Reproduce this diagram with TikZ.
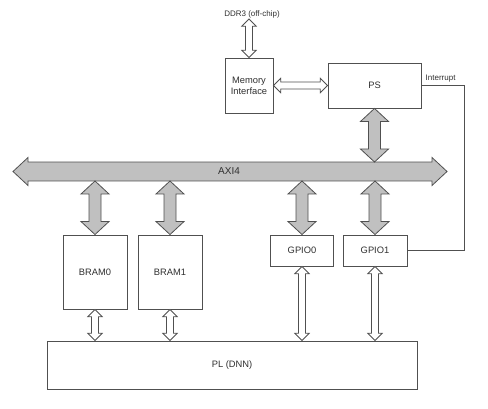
\documentclass[tikz,border=0pt]{standalone}
\usepackage{fontspec}
\setmainfont{Liberation Sans}
\usetikzlibrary{calc}
\definecolor{linec}{HTML}{505050}
\definecolor{arrfill}{HTML}{C0C0C0}
\definecolor{txtc}{HTML}{303030}
\tikzset{
  barrow/.style args={#1/#2/#3}{to path={
    (\tikztostart)
    -- ($(\tikztostart)!#3!(\tikztotarget)!#2!90:(\tikztotarget)$)
    -- ($(\tikztostart)!#3!(\tikztotarget)!#1!90:(\tikztotarget)$)
    -- ($(\tikztotarget)!#3!(\tikztostart)!#1!-90:(\tikztostart)$)
    -- ($(\tikztotarget)!#3!(\tikztostart)!#2!-90:(\tikztostart)$)
    -- (\tikztotarget)
    -- ($(\tikztotarget)!#3!(\tikztostart)!#2!90:(\tikztostart)$)
    -- ($(\tikztotarget)!#3!(\tikztostart)!#1!90:(\tikztostart)$)
    -- ($(\tikztostart)!#3!(\tikztotarget)!#1!-90:(\tikztotarget)$)
    -- ($(\tikztostart)!#3!(\tikztotarget)!#2!-90:(\tikztotarget)$)
    -- cycle}},
  hollow/.style={draw=linec, fill=white, line width=0.6pt, line join=miter, barrow=2.6pt/5.4pt/5.4pt},
  grayarr/.style={draw=linec, fill=arrfill, line width=0.6pt, line join=miter, barrow=4.5pt/10.5pt/9.75pt},
  busarr/.style={draw=linec, fill=arrfill, line width=0.6pt, line join=miter, barrow=7.1pt/10.5pt/11.25pt},
  blk/.style={draw=linec, line width=0.7pt, fill=white, text=txtc, inner sep=0pt,
    font=\fontsize{7}{8.4}\selectfont},
  lbl/.style={text=txtc, inner sep=0pt, font=\fontsize{6}{7}\selectfont},
}
\begin{document}
\begin{tikzpicture}[x=0.75pt,y=-0.75pt]
\useasboundingbox (0,0) rectangle (488,409);
% boxes
\node[blk, minimum width=48*0.75pt, minimum height=55*0.75pt, align=center] (mem) at (249,85.5) {Memory\\Interface};
\node[blk, minimum width=93*0.75pt, minimum height=45*0.75pt] (ps) at (374.5,85.5) {PS};
\node[blk, minimum width=64*0.75pt, minimum height=74*0.75pt] (bram0) at (95,272) {BRAM0};
\node[blk, minimum width=64*0.75pt, minimum height=74*0.75pt] (bram1) at (170,272) {BRAM1};
\node[blk, minimum width=63*0.75pt, minimum height=31*0.75pt] (gpio0) at (302,250.5) {GPIO0};
\node[blk, minimum width=64*0.75pt, minimum height=31*0.75pt] (gpio1) at (375,250.5) {GPIO1};
\node[blk, minimum width=370*0.75pt, minimum height=48*0.75pt] (pl) at (232,365) {PL (DNN)};
% labels
\node[lbl] (ddr) at (252,14) {DDR3 (off-chip)};
% bus
\coordinate (busL) at (13,171.5);
\coordinate (busR) at (447,171.5);
\coordinate (bustop) at (0,162);
\coordinate (busbot) at (0,181);
\draw[busarr] (busL) to (busR);
\node[text=txtc, inner sep=0pt, font=\fontsize{7.5}{9}\selectfont] (axi) at (229,171.5) {AXI4};
% gray arrows
\draw[grayarr] (ps.south) to (ps.south |- bustop);
\draw[grayarr] (bram0.north |- busbot) to (bram0.north);
\draw[grayarr] (bram1.north |- busbot) to (bram1.north);
\draw[grayarr] (gpio0.north |- busbot) to (gpio0.north);
\draw[grayarr] (gpio1.north |- busbot) to (gpio1.north);
% hollow arrows
\draw[hollow] (mem.north |- 0,19) to (mem.north);
\draw[hollow] (mem.east) to (ps.west);
\draw[hollow] (bram0.south) to (bram0.south |- pl.north);
\draw[hollow] (bram1.south) to (bram1.south |- pl.north);
\draw[hollow] (gpio0.south) to (gpio0.south |- pl.north);
\draw[hollow] (gpio1.south) to (gpio1.south |- pl.north);
% interrupt
\coordinate (irq) at (464,85.5);
\draw[linec, line width=0.6pt] (ps.east) -- (irq) |- (gpio1.east);
\node[lbl, anchor=south west] (irqlbl) at ($(ps.east)+(4,-3)$) {Interrupt};
\end{tikzpicture}
\end{document}
